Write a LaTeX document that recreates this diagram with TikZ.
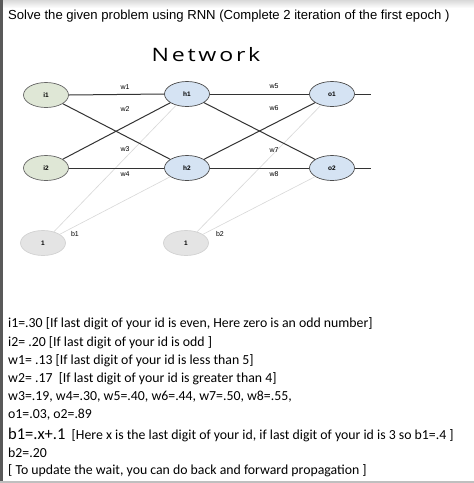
\documentclass[tikz,border=0pt]{standalone}
\usepackage{fontspec}
\setmainfont{Liberation Sans}
\newfontfamily\calib{Carlito}
\newfontfamily\netfont[LetterSpace=12]{Open Sans}
\usetikzlibrary{shapes.geometric}
\definecolor{ingreen}{HTML}{DFE7D6}
\definecolor{hidblue}{HTML}{D5E3F3}
\definecolor{biasgray}{HTML}{E4E4E4}
\definecolor{edgegray}{HTML}{D8D8D8}
\tikzset{
  neuron/.style={ellipse, minimum width=45pt, minimum height=25pt, inner sep=0pt, line width=0.7pt, font=\bfseries\fontsize{6.5}{7}\selectfont},
  innode/.style={neuron, draw=gray!80!black, fill=ingreen},
  hidnode/.style={neuron, draw=black!70, fill=hidblue},
  biasnode/.style={neuron, draw=gray!35, fill=biasgray},
  wire/.style={draw=black!80, line width=1pt},
  biaswire/.style={draw=edgegray, line width=0.6pt},
  wlabel/.style={font=\fontsize{7}{8}\selectfont, inner sep=0pt},
  txt/.style={anchor=west, inner sep=0pt, font=\calib\fontsize{13.8}{15}\selectfont}
}
\begin{document}
\begin{tikzpicture}[x=1pt,y=-1pt]
\useasboundingbox (0,0) rectangle (474,483);
\fill[white] (0,0) rectangle (474,483);
\shade[top color=gray!30, bottom color=white] (0,0) rectangle (474,8);
\fill[black!65] (0,0) rectangle (3,483);
\fill[gray!50] (0,481) rectangle (474,483);

\node[anchor=west, inner sep=0pt, font=\fontsize{13.1}{14}\selectfont] (title) at (8,16) {Solve the given problem using RNN (Complete 2 iteration of the first epoch )};
\node[inner sep=0pt, font=\netfont\fontsize{18.5}{22}\selectfont, xscale=1.25] (net) at (206,55) {Network};

\node[innode] (i1) at (46,95) {i1};
\node[innode] (i2) at (46,168) {i2};
\node[hidnode] (h1) at (187,94) {h1};
\node[hidnode] (h2) at (187,168) {h2};
\node[hidnode] (o1) at (332,94) {o1};
\node[hidnode] (o2) at (332,168) {o2};
\node[biasnode] (b1n) at (43,243) {1};
\node[biasnode] (b2n) at (186,243) {1};
\coordinate (out1) at (371,94);
\coordinate (out2) at (371,168);

\draw[biaswire] (b1n) -- (h1);
\draw[biaswire] (b1n) -- (h2);
\draw[biaswire] (b2n) -- (o1);
\draw[biaswire] (b2n) -- (o2);

\draw[wire] (i1.east) -- (h1.west);
\draw[wire] (i1) -- (h2);
\draw[wire] (i2) -- (h1);
\draw[wire] (i2.east) -- (h2.west);
\draw[wire] (h1.east) -- (o1.west);
\draw[wire] (h1) -- (o2);
\draw[wire] (h2) -- (o1);
\draw[wire] (h2.east) -- (o2.west);
\draw[wire] (o1.east) -- (out1);
\draw[wire] (o2.east) -- (out2);

\node[wlabel] (lw1) at (125,87) {w1};
\node[wlabel] (lw2) at (125,109) {w2};
\node[wlabel] (lw3) at (125,149) {w3};
\node[wlabel] (lw4) at (125,174) {w4};
\node[wlabel] (lw5) at (274,86) {w5};
\node[wlabel] (lw6) at (274,108) {w6};
\node[wlabel] (lw7) at (274,150) {w7};
\node[wlabel] (lw8) at (274,174) {w8};
\node[wlabel] (lb1) at (75,234) {b1};
\node[wlabel] (lb2) at (220,234) {b2};

\node[txt] (t1) at (8,324) {i1=.30 [If last digit of your id is even, Here zero is an odd number]};
\node[txt] (t2) at (8,343) {i2= .20 [If last digit of your id is odd ]};
\node[txt] (t3) at (8,361) {w1= .13 [If last digit of your id is less than 5]};
\node[txt] (t4) at (8,379) {w2= .17 \ [If last digit of your id is greater than 4]};
\node[txt] (t5) at (8,397) {w3=.19, w4=.30, w5=.40, w6=.44, w7=.50, w8=.55,};
\node[txt] (t6) at (8,415) {o1=.03, o2=.89};
\node[txt] (t7) at (8,435) {{\fontsize{16.5}{17}\selectfont b1=.x+.1} \ [Here x is the last digit of your id, if last digit of your id is 3 so b1=.4 ]};
\node[txt] (t8) at (8,453) {b2=.20};
\node[txt] (t9) at (8,471) {[ To update the wait, you can do back and forward propagation ]};
\end{tikzpicture}
\end{document}
